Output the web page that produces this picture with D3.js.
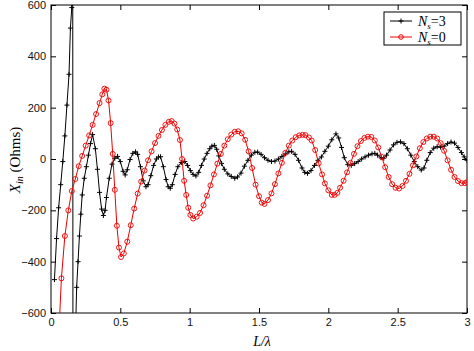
<!DOCTYPE html>
<html>
<head>
<meta charset="utf-8">
<script src="https://cdn.jsdelivr.net/npm/d3@7"></script>
<style>
  body { margin: 0; background: #fff; }
  svg { display: block; }
  .tick text { font-family: "Liberation Sans", Arial, sans-serif; font-size: 11px; fill: #111; }
</style>
</head>
<body>
<svg id="chart" width="474" height="351"></svg>
<script>
// axis ticks
const xTicks = [0, 0.5, 1, 1.5, 2, 2.5, 3];
const yTicks = [-600, -400, -200, 0, 200, 400, 600];

// N_s = 3 : [L/lambda, X_in]
const ns3Points = [
  [0.025, -470], [0.04, -310], [0.055, -190], [0.07, -100], [0.085, -10], [0.1, 90],
  [0.115, 210], [0.13, 330], [0.14, 510], [0.15, 590], [0.155, 2500], [0.16, -2500],
  [0.175, -720], [0.185, -500], [0.195, -400], [0.205, -300], [0.215, -215], [0.225, -140],
  [0.24, -75], [0.255, -30], [0.27, 15], [0.285, 60], [0.3, 95], [0.32, 40],
  [0.335, -40], [0.35, -130], [0.365, -195], [0.378, -220], [0.39, -200], [0.4, -150],
  [0.42, -75], [0.44, -20], [0.46, 3], [0.48, 10], [0.5, -10], [0.52, -48],
  [0.535, -62], [0.55, -42], [0.57, -2], [0.59, 22], [0.61, 28], [0.625, 18],
  [0.645, -30], [0.665, -85], [0.685, -108], [0.7, -100], [0.72, -65], [0.74, -25],
  [0.76, 0], [0.775, 8], [0.79, 9], [0.81, -30], [0.83, -80], [0.845, -108],
  [0.86, -114], [0.875, -100], [0.895, -60], [0.915, -30], [0.94, -14], [0.965, -10],
  [0.985, -25], [1.005, -45], [1.025, -60], [1.045, -66], [1.065, -52], [1.085, -25],
  [1.105, 0], [1.125, 22], [1.145, 40], [1.16, 50], [1.178, 53], [1.195, 38],
  [1.21, 12], [1.23, -17], [1.25, -40], [1.275, -58], [1.3, -68], [1.325, -75],
  [1.345, -70], [1.37, -55], [1.395, -28], [1.42, -5], [1.445, 15], [1.47, 26],
  [1.49, 27], [1.515, 18], [1.54, 5], [1.565, -5], [1.59, -10], [1.615, -8],
  [1.64, 0], [1.665, 10], [1.69, 20], [1.715, 28], [1.735, 30], [1.76, 18],
  [1.785, -5], [1.81, -35], [1.83, -52], [1.85, -56], [1.875, -45], [1.9, -25],
  [1.925, -5], [1.95, 8], [1.975, 30], [2.0, 50], [2.025, 75], [2.055, 98],
  [2.075, 82], [2.095, 45], [2.115, 5], [2.14, -22], [2.165, -25], [2.19, -18],
  [2.215, -10], [2.24, 0], [2.265, 8], [2.29, 15], [2.315, 20], [2.335, 22],
  [2.355, 15], [2.38, 5], [2.4, 3], [2.42, 15], [2.445, 35], [2.47, 55],
  [2.495, 65], [2.52, 67], [2.545, 60], [2.57, 40], [2.595, 15], [2.62, -10],
  [2.645, -30], [2.67, -43], [2.69, -35], [2.71, -5], [2.735, 25], [2.76, 42],
  [2.785, 48], [2.81, 46], [2.835, 50], [2.86, 60], [2.885, 66], [2.91, 62],
  [2.935, 45], [2.96, 25], [2.98, 8], [3.0, -5]
];

// N_s = 0 : [L/lambda, X_in]
const ns0Points = [
  [0.05, -760], [0.075, -465], [0.1, -300], [0.125, -200], [0.15, -125], [0.175, -78],
  [0.2, -28], [0.225, 12], [0.25, 52], [0.275, 92], [0.3, 133], [0.325, 175],
  [0.35, 218], [0.37, 252], [0.385, 274], [0.4, 270], [0.415, 228], [0.43, 140],
  [0.445, 20], [0.46, -120], [0.475, -260], [0.49, -345], [0.505, -382], [0.525, -368],
  [0.55, -322], [0.575, -258], [0.6, -193], [0.625, -135], [0.65, -88], [0.675, -45],
  [0.7, -5], [0.725, 30], [0.75, 62], [0.775, 90], [0.8, 113], [0.825, 133],
  [0.85, 145], [0.87, 148], [0.89, 138], [0.91, 115], [0.93, 74], [0.945, 0],
  [0.96, -85], [0.975, -140], [0.99, -190], [1.005, -218], [1.025, -232], [1.05, -225],
  [1.075, -210], [1.1, -180], [1.125, -143], [1.15, -103], [1.175, -60], [1.2, -18],
  [1.225, 20], [1.25, 52], [1.275, 77], [1.3, 95], [1.325, 106], [1.35, 108],
  [1.375, 100], [1.4, 75], [1.425, 30], [1.45, -35], [1.475, -100], [1.5, -145],
  [1.52, -170], [1.54, -175], [1.565, -160], [1.59, -134], [1.615, -98], [1.64, -56],
  [1.665, -15], [1.69, 24], [1.715, 52], [1.74, 72], [1.765, 85], [1.79, 92],
  [1.815, 94], [1.835, 93], [1.86, 84], [1.88, 72], [1.905, 35], [1.93, -17],
  [1.955, -60], [1.975, -95], [2.0, -122], [2.025, -140], [2.045, -140], [2.065, -132],
  [2.085, -112], [2.11, -85], [2.135, -52], [2.16, -15], [2.185, 20], [2.21, 50],
  [2.235, 70], [2.26, 82], [2.285, 87], [2.31, 86], [2.335, 72], [2.36, 45],
  [2.385, 8], [2.41, -32], [2.435, -70], [2.46, -98], [2.485, -112], [2.51, -115],
  [2.535, -105], [2.56, -85], [2.585, -58], [2.61, -25], [2.635, 10], [2.66, 42],
  [2.685, 66], [2.71, 80], [2.735, 87], [2.76, 87], [2.785, 80], [2.81, 62],
  [2.835, 32], [2.86, -5], [2.885, -42], [2.91, -70], [2.935, -86], [2.96, -94],
  [2.985, -94], [3.0, -90]
];

const legendLabels = ["3", "0"];

const margin = {top: 5, right: 7, bottom: 38, left: 51};
const fullWidth = 474, fullHeight = 351;
const width = fullWidth - margin.left - margin.right;
const height = fullHeight - margin.top - margin.bottom;

const svg = d3.select('#chart');
const g = svg.append('g').attr('transform', `translate(${margin.left},${margin.top})`);

const x = d3.scaleLinear().domain([0, 3]).range([0, width]);
const y = d3.scaleLinear().domain([-600, 600]).range([height, 0]);

g.append('clipPath').attr('id', 'plot-clip')
  .append('rect').attr('width', width).attr('height', height);

// Axes (ticks pointing inward, Matlab style)
const tickLen = 5;
g.append('g').attr('transform', `translate(0,${height})`)
  .call(d3.axisBottom(x).tickValues(xTicks).tickFormat(d3.format('')).tickSizeInner(-tickLen).tickSizeOuter(0).tickPadding(5))
  .call(a => a.select('.domain').remove());
g.append('g')
  .call(d3.axisTop(x).tickValues(xTicks).tickFormat('').tickSizeInner(-tickLen).tickSizeOuter(0))
  .call(a => a.select('.domain').remove());
g.append('g')
  .call(d3.axisLeft(y).tickValues(yTicks).tickSizeInner(-tickLen).tickSizeOuter(0).tickPadding(5))
  .call(a => a.select('.domain').remove());
g.append('g').attr('transform', `translate(${width},0)`)
  .call(d3.axisRight(y).tickValues(yTicks).tickFormat('').tickSizeInner(-tickLen).tickSizeOuter(0))
  .call(a => a.select('.domain').remove());

g.append('rect')
  .attr('width', width).attr('height', height)
  .attr('fill', 'none').attr('stroke', '#000').attr('stroke-width', 1);

const plot = g.append('g').attr('clip-path', 'url(#plot-clip)');
const line = d3.line().x(d => x(d[0])).y(d => y(d[1]));

// N_s = 3 (black, plus markers)
plot.append('path').datum(ns3Points)
  .attr('fill', 'none').attr('stroke', '#000').attr('stroke-width', 1).attr('d', line);
plot.selectAll('.plus').data(ns3Points.filter(d => Math.abs(d[1]) < 1000))
  .enter().append('path')
  .attr('class', 'plus')
  .attr('d', d => `M${x(d[0]) - 2.5},${y(d[1])}h5M${x(d[0])},${y(d[1]) - 2.5}v5`)
  .attr('stroke', '#000').attr('stroke-width', 1);

// N_s = 0 (red, circle markers)
plot.append('path').datum(ns0Points)
  .attr('fill', 'none').attr('stroke', '#ee0000').attr('stroke-width', 1).attr('d', line);
plot.selectAll('.circ').data(ns0Points)
  .enter().append('circle')
  .attr('class', 'circ')
  .attr('cx', d => x(d[0])).attr('cy', d => y(d[1])).attr('r', 2.5)
  .attr('fill', 'none').attr('stroke', '#ee0000').attr('stroke-width', 0.9);

// Axis labels
svg.append('text')
  .attr('x', 262).attr('y', 346)
  .attr('text-anchor', 'middle')
  .style('font-family', '"Liberation Serif", "Times New Roman", serif')
  .style('font-size', '14px').style('font-style', 'italic')
  .text('L/λ');

const yl = svg.append('text')
  .attr('transform', 'translate(20,160) rotate(-90)')
  .attr('text-anchor', 'middle')
  .style('font-family', '"Liberation Serif", "Times New Roman", serif')
  .style('font-size', '15px');
yl.append('tspan').style('font-style', 'italic').text('X');
yl.append('tspan').style('font-style', 'italic').style('font-size', '10px').attr('dy', 3).text('in');
yl.append('tspan').attr('dy', -3).text(' (Ohms)');

// Legend
const lg = svg.append('g').attr('transform', 'translate(384,12)');
lg.append('rect').attr('width', 77).attr('height', 33)
  .attr('fill', '#fff').attr('stroke', '#000').attr('stroke-width', 1);
const legendColors = ['#000', '#ee0000'];
legendLabels.forEach((lab, i) => {
  const ly = 9 + i * 16;
  lg.append('line').attr('x1', 6).attr('x2', 28).attr('y1', ly).attr('y2', ly)
    .attr('stroke', legendColors[i]).attr('stroke-width', 1);
  if (i === 0) {
    lg.append('path').attr('d', `M14.5,${ly}h5M17,${ly - 2.5}v5`).attr('stroke', '#000');
  } else {
    lg.append('circle').attr('cx', 17).attr('cy', ly).attr('r', 2.3)
      .attr('fill', 'none').attr('stroke', '#ee0000');
  }
  const t = lg.append('text').attr('x', 34).attr('y', ly + 5)
    .style('font-family', '"Liberation Serif", "Times New Roman", serif')
    .style('font-size', '14px');
  t.append('tspan').style('font-style', 'italic').text('N');
  t.append('tspan').style('font-style', 'italic').style('font-size', '9px').attr('dy', 3).text('s');
  t.append('tspan').attr('dy', -3).text('=' + lab);
});
</script>
</body>
</html>
